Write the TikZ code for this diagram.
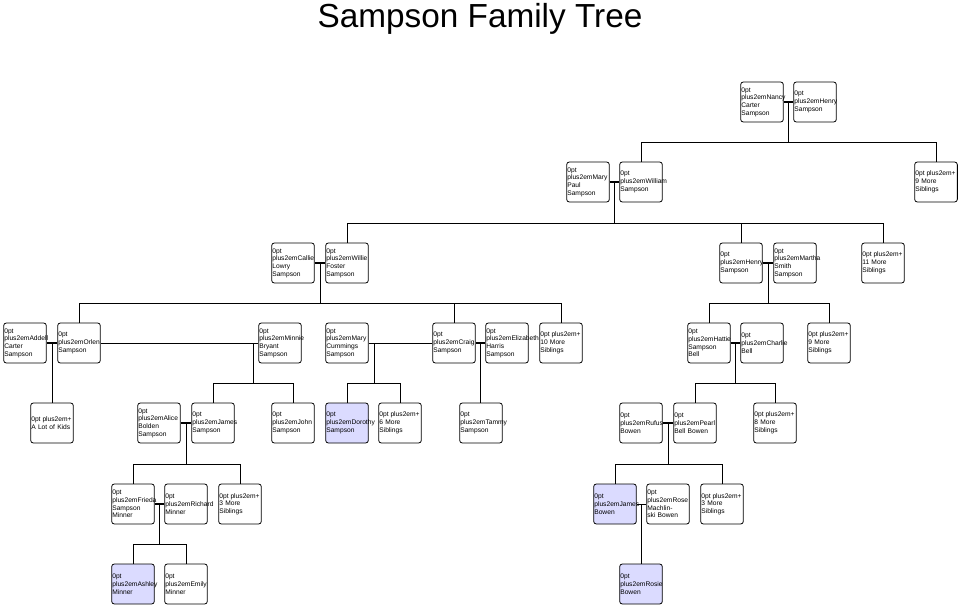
\documentclass[tikz,border=0pt]{standalone}
\usepackage{fontspec}
\setmainfont{Liberation Sans}
\usetikzlibrary{calc}
\begin{document}
\begin{tikzpicture}[x=0.75pt,y=-0.75pt,
 box/.style={draw,rounded corners=2pt,minimum width=32pt,minimum height=30pt,text width=31pt,align=center,inner sep=0.5pt,font=\fontsize{5}{5.8}\selectfont\hyphenpenalty=10000\exhyphenpenalty=10000,line width=0.6pt},
 hl/.style={box,fill=blue!14},
 cp/.style={line width=1.6pt},
 ln/.style={line width=0.7pt}]
\useasboundingbox (0,0) rectangle (980,607);
\node[font=\fontsize{25}{30}\selectfont] (title) at (480,19) {Sampson Family Tree};
% row 1
\node[box] (nancy) at (762,102) {Nancy Carter Sampson};
\node[box] (henry1) at (815,102) {Henry Sampson};
% row 2
\node[box] (marypaul) at (588,182) {Mary Paul Sampson};
\node[box] (william) at (641,182) {William Sampson};
\node[box] (more9a) at (936,182) {+ 9 More Siblings};
% row 3
\node[box] (callie) at (293,263) {Callie Lowry Sampson};
\node[box] (willie) at (347,263) {Willie Foster Sampson};
\node[box] (henry2) at (741,263) {Henry Sampson};
\node[box] (martha) at (795,263) {Martha Smith Sampson};
\node[box] (more11) at (883,263) {+ 11 More Siblings};
% row 4
\node[box] (addell) at (25,343) {Addell Carter Sampson};
\node[box] (orlen) at (79,343) {Orlen Sampson};
\node[box] (minnie) at (280,343) {Minnie\\ Bryant Sampson};
\node[box] (marycum) at (347,343) {Mary Cummings Sampson};
\node[box] (craig) at (454,343) {Craig Sampson};
\node[box] (eliz) at (507,343) {Elizabeth Harris Sampson};
\node[box] (more10) at (561,343) {+ 10 More Siblings};
\node[box] (hattie) at (709,343) {Hattie\\ Sampson\\ Bell};
\node[box] (charlie) at (762,343) {Charlie Bell};
\node[box] (more9b) at (829,343) {+ 9 More Siblings};
% row 5
\node[box] (alot) at (52,423) {+ A Lot of Kids};
\node[box] (alice) at (159,423) {Alice Bolden Sampson};
\node[box] (james) at (213,423) {James Sampson};
\node[box] (john) at (293,423) {John Sampson};
\node[hl] (dorothy) at (347,423) {Dorothy Sampson};
\node[box] (more6) at (400,423) {+ 6 More Siblings};
\node[box] (tammy) at (481,423) {Tammy Sampson};
\node[box] (rufus) at (641,423) {Rufus Bowen};
\node[box] (pearl) at (695,423) {Pearl Bell Bowen};
\node[box] (more8) at (775,423) {+ 8 More Siblings};
% row 6
\node[box] (frieda) at (133,504) {Frieda Sampson Minner};
\node[box] (richard) at (186,504) {Richard Minner};
\node[box] (more3a) at (240,504) {+ 3 More Siblings};
\node[hl] (jamesb) at (615,504) {James Bowen};
\node[box] (rose) at (668,504) {Rose Machlinski Bowen};
\node[box] (more3b) at (722,504) {+ 3 More Siblings};
% row 7
\node[hl] (ashley) at (133,584) {Ashley Minner};
\node[box] (emily) at (186,584) {Emily Minner};
\node[hl] (rosie) at (641,584) {Rosie Bowen};
% bar levels
\coordinate (b1) at (0,142); \coordinate (b2) at (0,223); \coordinate (b3) at (0,303);
\coordinate (b4) at (0,383); \coordinate (b5) at (0,464); \coordinate (b6) at (0,544);
% couples
\draw[cp] (nancy.east) -- (henry1.west);
\draw[cp] (marypaul.east) -- (william.west);
\draw[cp] (callie.east) -- (willie.west);
\draw[cp] (henry2.east) -- (martha.west);
\draw[cp] (addell.east) -- (orlen.west);
\draw[cp] (craig.east) -- (eliz.west);
\draw[cp] (hattie.east) -- (charlie.west);
\draw[cp] (alice.east) -- (james.west);
\draw[cp] (rufus.east) -- (pearl.west);
\draw[cp] (frieda.east) -- (richard.west);
\draw[ln] (jamesb.east) -- (rose.west);
\draw[ln] (orlen.east) -- (minnie.west);
\draw[ln] (marycum.east) -- (craig.west);
% midpoints
\coordinate (m1) at ($(nancy.east)!0.5!(henry1.west)$);
\coordinate (m2) at ($(marypaul.east)!0.5!(william.west)$);
\coordinate (m3) at ($(callie.east)!0.5!(willie.west)$);
\coordinate (m4) at ($(henry2.east)!0.5!(martha.west)$);
\coordinate (m5) at ($(addell.east)!0.5!(orlen.west)$);
\coordinate (m6) at (253,343);
\coordinate (m7) at (374,343);
\coordinate (m8) at ($(craig.east)!0.5!(eliz.west)$);
\coordinate (m9) at ($(hattie.east)!0.5!(charlie.west)$);
\coordinate (m10) at ($(alice.east)!0.5!(james.west)$);
\coordinate (m11) at ($(rufus.east)!0.5!(pearl.west)$);
\coordinate (m12) at ($(frieda.east)!0.5!(richard.west)$);
\coordinate (m13) at ($(jamesb.east)!0.5!(rose.west)$);
% descents
\foreach \m/\b/\c in {m1/b1/william,m1/b1/more9a,
 m2/b2/willie,m2/b2/henry2,m2/b2/more11,
 m3/b3/orlen,m3/b3/craig,m3/b3/more10,
 m4/b3/hattie,m4/b3/more9b,
 m6/b4/james,m6/b4/john,
 m7/b4/dorothy,m7/b4/more6,
 m9/b4/pearl,m9/b4/more8,
 m10/b5/frieda,m10/b5/more3a,
 m11/b5/jamesb,m11/b5/more3b,
 m12/b6/ashley,m12/b6/emily}
  \draw[ln] (\m) -- (\m |- \b) -| (\c.north);
\draw[ln] (m5) -- (m5 |- alot.north);
\draw[ln] (m8) -- (m8 |- tammy.north);
\draw[ln] (m13) -- (m13 |- rosie.north);
\end{tikzpicture}
\end{document}
